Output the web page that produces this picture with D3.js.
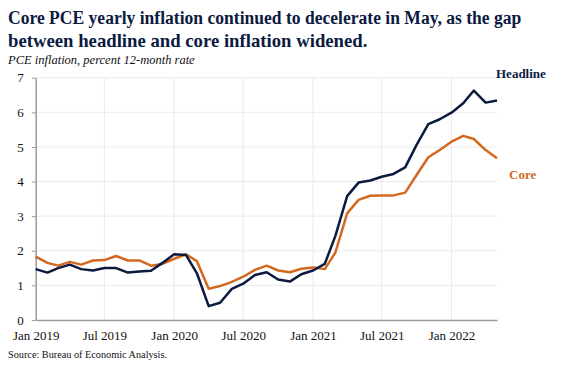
<!DOCTYPE html>
<html><head><meta charset="utf-8">
<script src="https://cdn.jsdelivr.net/npm/d3@7"></script>
<style>body{margin:0;background:#fff}svg{display:block}</style>
</head><body>
<svg id="c" width="568" height="371"></svg>
<script>
const months = d3.range(41).map(i => new Date(2019, i, 1));
const headline = [1.47,1.37,1.50,1.60,1.47,1.43,1.50,1.50,1.37,1.40,1.42,1.65,
  1.90,1.88,1.35,0.40,0.50,0.90,1.05,1.30,1.38,1.17,1.11,1.32,
  1.43,1.62,2.43,3.58,3.97,4.03,4.14,4.22,4.41,5.06,5.66,5.80,
  5.99,6.26,6.63,6.28,6.34];
const core = [1.83,1.65,1.57,1.68,1.60,1.72,1.73,1.85,1.72,1.72,1.57,1.62,
  1.77,1.90,1.70,0.90,0.98,1.10,1.25,1.45,1.57,1.43,1.38,1.48,
  1.52,1.47,1.95,3.08,3.47,3.59,3.60,3.60,3.68,4.19,4.70,4.91,
  5.15,5.32,5.23,4.91,4.67];
const yTicks = [0,1,2,3,4,5,6,7];
const xTicks = [new Date(2019,0,1),new Date(2019,6,1),new Date(2020,0,1),new Date(2020,6,1),new Date(2021,0,1),new Date(2021,6,1),new Date(2022,0,1)];
const xTickLabels = ["Jan 2019","Jul 2019","Jan 2020","Jul 2020","Jan 2021","Jul 2021","Jan 2022"];

const navy = "#0c1a3f", orange = "#d2691f";
const svg = d3.select("#c");
const serif = "'Liberation Serif','Times New Roman',serif";
const x = d3.scaleTime().domain([months[0], months[40]]).range([35.7, 497]);
const y = d3.scaleLinear().domain([0,7]).range([320, 77.7]);

// title (horizontally condensed to match the reference's narrow serif)
const t1 = svg.append("g").attr("transform", "translate(8,0) scale(0.9,1)")
  .attr("font-family", serif).attr("font-weight","bold").attr("fill", navy).attr("font-size", 19.5);
t1.append("text").attr("x", 0).attr("y", 24).text("Core PCE yearly inflation continued to decelerate in May, as the gap");
const t2 = svg.append("g").attr("transform", "translate(8,0) scale(0.96,1)")
  .attr("font-family", serif).attr("font-weight","bold").attr("fill", navy).attr("font-size", 19.5);
t2.append("text").attr("x", 0).attr("y", 47).text("between headline and core inflation widened.");
svg.append("text").attr("x", 8).attr("y", 64).attr("font-family", serif).attr("font-style","italic").attr("font-size", 12.5).attr("fill","#111").text("PCE inflation, percent 12-month rate");

// grid
svg.append("g").selectAll("line").data(yTicks.slice(1)).join("line")
  .attr("x1", 35.7).attr("x2", 497).attr("y1", d => y(d)).attr("y2", d => y(d))
  .attr("stroke", "#ebebeb").attr("stroke-width", 1);
svg.append("g").selectAll("line").data(xTicks.slice(1)).join("line")
  .attr("x1", d => x(d)).attr("x2", d => x(d)).attr("y1", 320).attr("y2", 77.7)
  .attr("stroke", "#ebebeb").attr("stroke-width", 1);

// axes
const yAxis = svg.append("g").attr("transform", "translate(35.7,0)")
  .call(d3.axisLeft(y).tickValues(yTicks).tickFormat(d3.format("d")).tickSize(4).tickPadding(8).tickSizeOuter(0));
yAxis.select(".domain").attr("stroke", "#9a9a9a").attr("stroke-width", 1.5);
yAxis.selectAll(".tick line").attr("stroke", "#9a9a9a");
yAxis.selectAll("text").attr("font-family", serif).attr("font-size", 13).attr("fill", "#111");

const xAxis = svg.append("g").attr("transform", "translate(0,320)")
  .call(d3.axisBottom(x).tickValues(xTicks).tickFormat((d,i) => xTickLabels[i]).tickSize(0).tickPadding(11).tickSizeOuter(0));
xAxis.select(".domain").attr("stroke", "#9a9a9a").attr("stroke-width", 1.5);
xAxis.selectAll("text").attr("font-family", serif).attr("font-size", 13).attr("fill", "#111");

// lines
const line = d3.line().x((d,i) => x(months[i])).y(d => y(d));
svg.append("path").datum(core).attr("d", line).attr("fill","none").attr("stroke", orange).attr("stroke-width", 2.5).attr("stroke-linejoin","round");
svg.append("path").datum(headline).attr("d", line).attr("fill","none").attr("stroke", navy).attr("stroke-width", 2.5).attr("stroke-linejoin","round");

// labels
svg.append("text").attr("x", 496).attr("y", 78).attr("font-family", serif).attr("font-weight","bold").attr("font-size", 13).attr("fill", navy).text("Headline");
svg.append("text").attr("x", 509).attr("y", 179).attr("font-family", serif).attr("font-weight","bold").attr("font-size", 13).attr("fill", orange).text("Core");

svg.append("text").attr("x", 8).attr("y", 358).attr("font-family", serif).attr("font-size", 11).attr("fill", "#111")
  .attr("textLength", 159).attr("lengthAdjust","spacingAndGlyphs").text("Source: Bureau of Economic Analysis.");
</script>
</body></html>
